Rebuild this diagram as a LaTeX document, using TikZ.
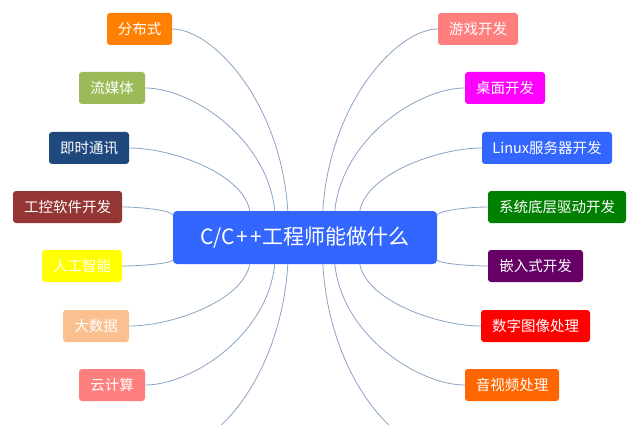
\documentclass[tikz,border=0pt]{standalone}
\usepackage{fontspec}
\setmainfont{Noto Sans CJK SC}
\usetikzlibrary{calc}
\definecolor{cA}{HTML}{FF8000}
\definecolor{cB}{HTML}{9BBB59}
\definecolor{cC}{HTML}{1F497D}
\definecolor{cD}{HTML}{943634}
\definecolor{cE}{HTML}{FFFF00}
\definecolor{cF}{HTML}{FAC08F}
\definecolor{cG}{HTML}{FF7F7F}
\definecolor{cH}{HTML}{FF00FF}
\definecolor{cI}{HTML}{3366FF}
\definecolor{cJ}{HTML}{008000}
\definecolor{cK}{HTML}{660066}
\definecolor{cL}{HTML}{FF0000}
\definecolor{cM}{HTML}{FF6600}
\definecolor{linec}{HTML}{8AA4C4}
\tikzset{
  leaf/.style={rounded corners=3pt, text=white, minimum height=32pt, inner sep=0pt,
    font=\fontsize{14.5pt}{16pt}\selectfont},
  hub/.style={rounded corners=4pt, fill=cI, text=white, minimum width=264pt, minimum height=53pt,
    inner sep=0pt, font=\fontsize{21pt}{24pt}\selectfont},
  branch/.style={draw=linec, line width=0.8pt,
    to path={let \p1=(\tikztostart), \p2=(\tikztotarget) in
      .. controls ({\x1+0.35*(\x2-\x1)},\y1) and ({\x2-0.06*(\x2-\x1)},{\y1+0.4*(\y2-\y1)}) .. (\tikztotarget)}}
}
\begin{document}
\begin{tikzpicture}[x=1pt,y=-1pt]
\clip (0,0) rectangle (640,425);
\fill[white] (0,0) rectangle (640,425);
\node[hub] (c) at (305,237.5) {C/C\kern1.5pt+\kern2pt+\kern1pt工程师能做什么};
% left
\node[leaf, fill=cA, minimum width=65pt] (l1) at (139.5,29) {分布式};
\node[leaf, fill=cB, minimum width=66pt] (l2) at (112,88) {流媒体};
\node[leaf, fill=cC, minimum width=80pt] (l3) at (89,148) {即时通讯};
\node[leaf, fill=cD, minimum width=109pt] (l4) at (67.5,207) {工控软件开发};
\node[leaf, fill=cE, minimum width=80pt] (l5) at (82,266) {人工智能};
\node[leaf, fill=cF, minimum width=66pt] (l6) at (96,326) {大数据};
\node[leaf, fill=cG, minimum width=66pt] (l7) at (112,385) {云计算};
% right
\node[leaf, fill=cG, minimum width=80pt] (r1) at (478,29) {游戏开发};
\node[leaf, fill=cH, minimum width=80pt] (r2) at (505,88) {桌面开发};
\node[leaf, fill=cI, minimum width=130pt] (r3) at (547,148) {Linux服务器开发};
\node[leaf, fill=cJ, minimum width=138pt] (r4) at (557,207) {系统底层驱动开发};
\node[leaf, fill=cK, minimum width=95pt] (r5) at (535.5,266) {嵌入式开发};
\node[leaf, fill=cL, minimum width=109pt] (r6) at (535.5,326) {数字图像处理};
\node[leaf, fill=cM, minimum width=94pt] (r7) at (512,385) {音视频处理};
% attachment points on hub
\coordinate (t1) at ($(c.north west)+(115,0)$);
\coordinate (t2) at ($(c.north west)+(102,0)$);
\coordinate (t3) at ($(c.north west)+(77,0)$);
\coordinate (w1) at ($(c.north west)+(0,4)$);
\coordinate (w2) at ($(c.south west)+(0,-4)$);
\coordinate (b1) at ($(c.south west)+(77,0)$);
\coordinate (b2) at ($(c.south west)+(102,0)$);
\coordinate (b3) at ($(c.south west)+(115,0)$);
\coordinate (u1) at ($(c.north west)+(150,0)$);
\coordinate (u2) at ($(c.north west)+(162,0)$);
\coordinate (u3) at ($(c.north west)+(187,0)$);
\coordinate (e1) at ($(c.north east)+(0,4)$);
\coordinate (e2) at ($(c.south east)+(0,-4)$);
\coordinate (v1) at ($(c.south west)+(187,0)$);
\coordinate (v2) at ($(c.south west)+(162,0)$);
\coordinate (v3) at ($(c.south west)+(150,0)$);
\coordinate (lb) at (180,446);
\coordinate (rb) at (430,446);
% connectors
\draw[branch] (l1.east) to (t1);
\draw[branch] (l2.east) to (t2);
\draw[branch] (l3.east) to (t3);
\draw[branch] (l4.east) to (w1);
\draw[branch] (l5.east) to (w2);
\draw[branch] (l6.east) to (b1);
\draw[branch] (l7.east) to (b2);
\draw[branch] (lb) to (b3);
\draw[branch] (r1.west) to (u1);
\draw[branch] (r2.west) to (u2);
\draw[branch] (r3.west) to (u3);
\draw[branch] (r4.west) to (e1);
\draw[branch] (r5.west) to (e2);
\draw[branch] (r6.west) to (v1);
\draw[branch] (r7.west) to (v2);
\draw[branch] (rb) to (v3);
\end{tikzpicture}
\end{document}
